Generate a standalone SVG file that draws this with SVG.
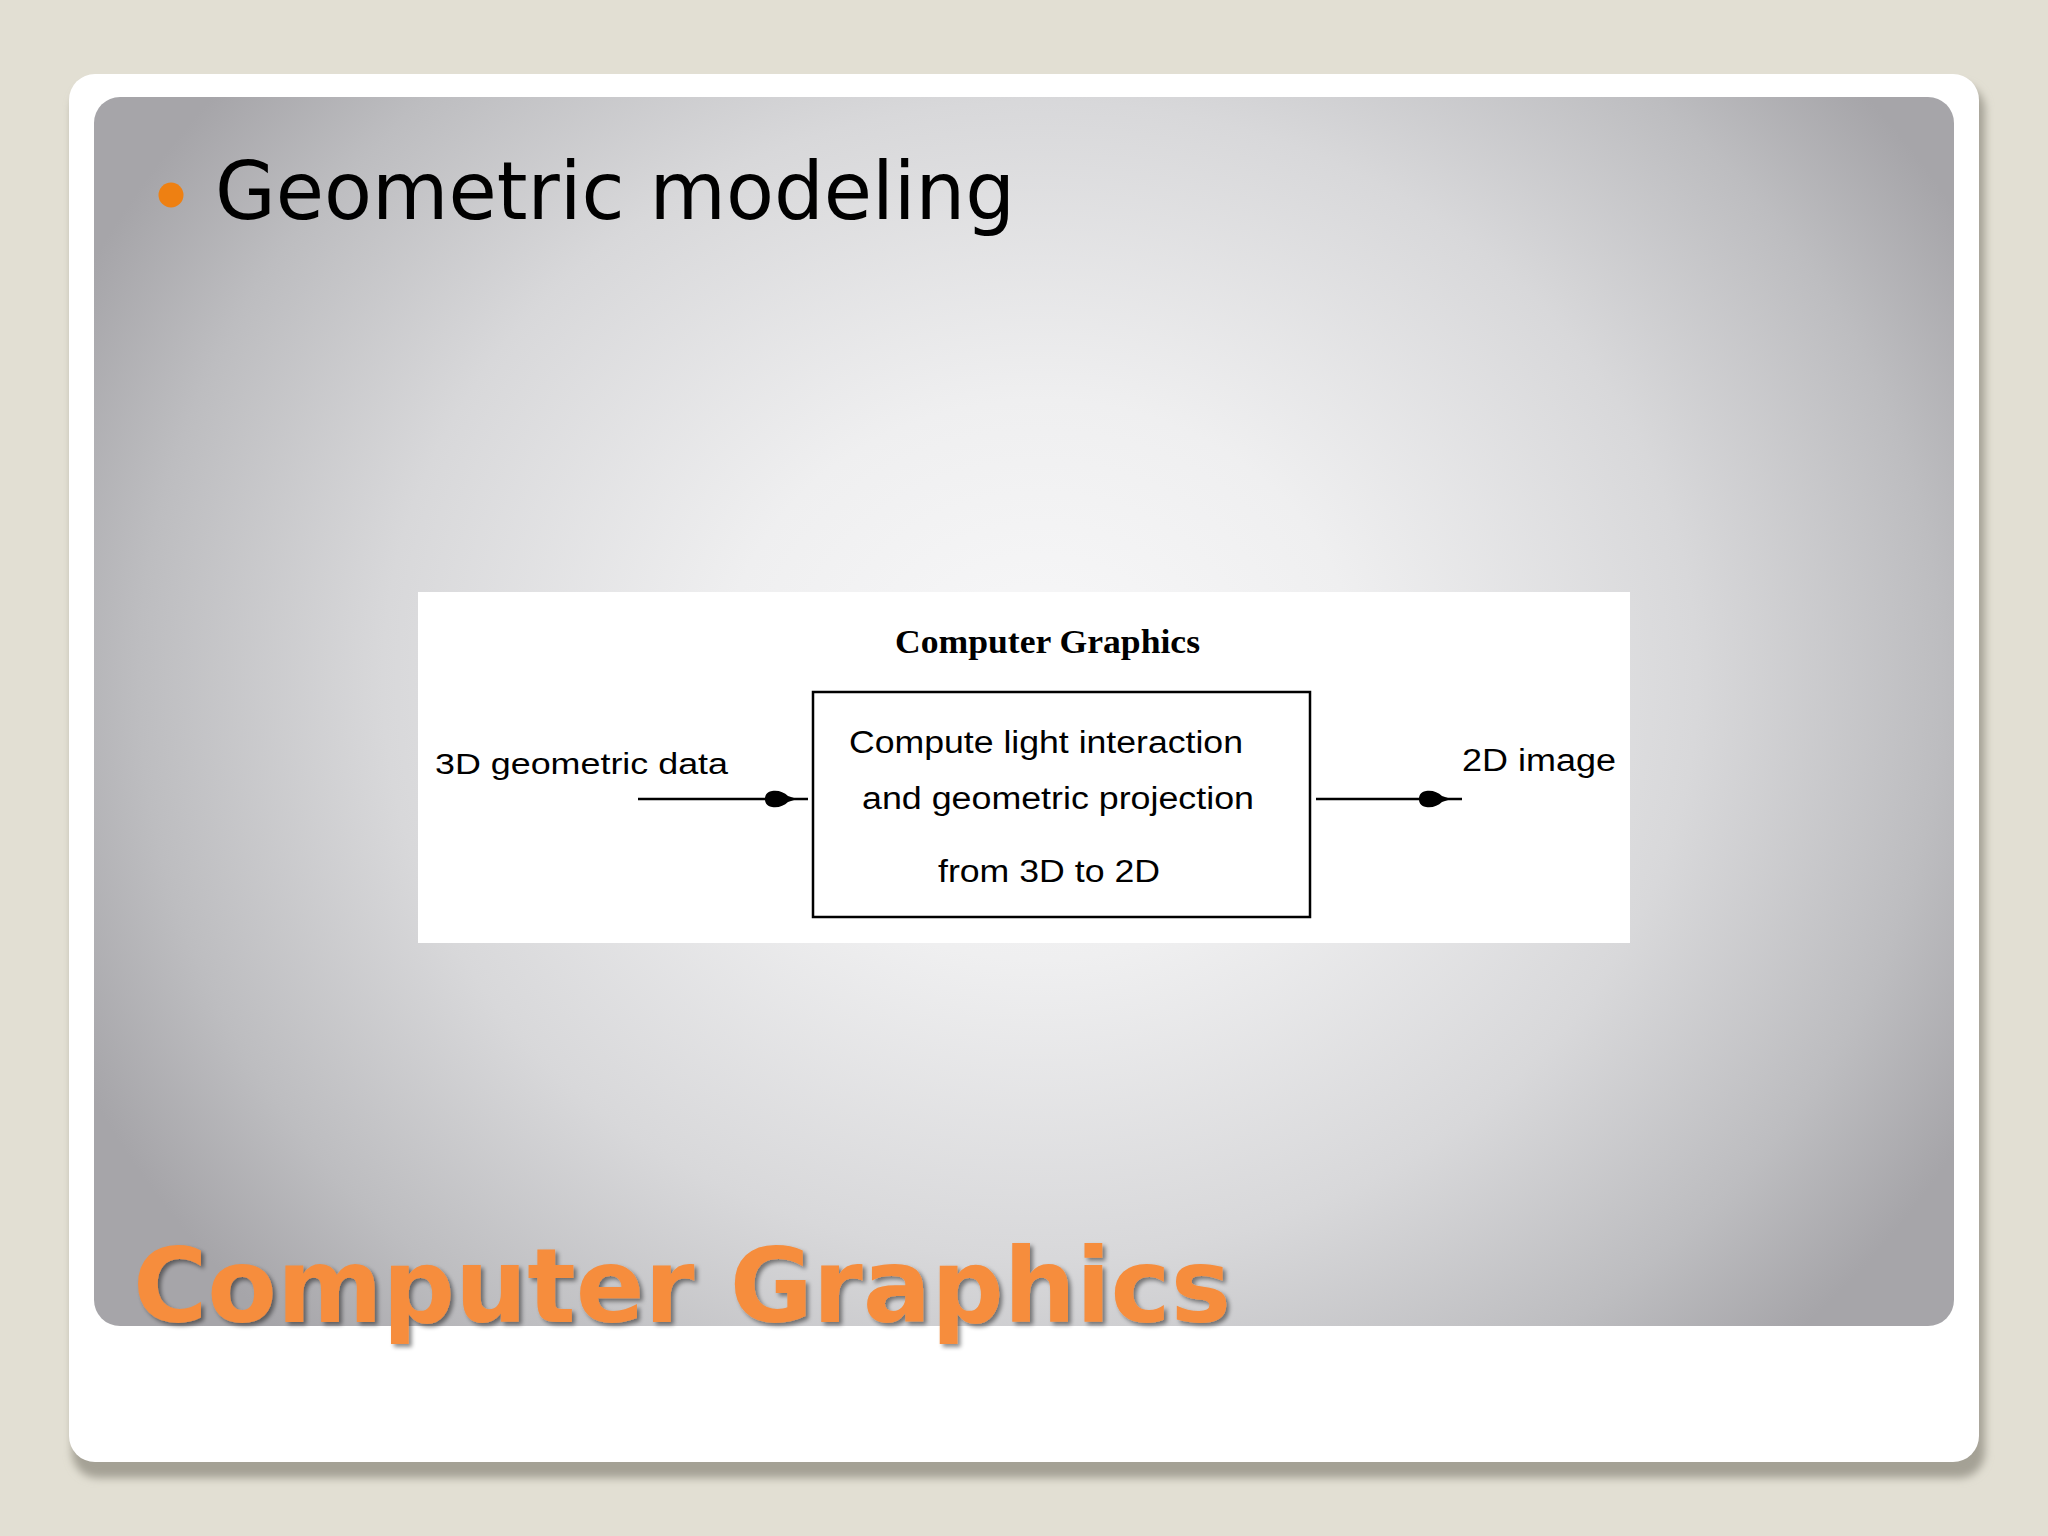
<svg xmlns="http://www.w3.org/2000/svg" width="2048" height="1536" viewBox="0 0 2048 1536">
  <style>
    .sans { font-family: "Liberation Sans", Arial, sans-serif; fill: #000; }
    .label { font-size: 31px; }
    .conn { stroke: #000; stroke-width: 2.5; fill: none; }
  </style>
  <defs>
    <radialGradient id="panelGrad" gradientUnits="userSpaceOnUse" cx="1040" cy="680" r="1060" gradientTransform="translate(1040 680) scale(1 0.88) translate(-1040 -680)">
      <stop offset="0" stop-color="#f8f8f9"/>
      <stop offset="0.3" stop-color="#efeff0"/>
      <stop offset="0.62" stop-color="#d8d8da"/>
      <stop offset="0.85" stop-color="#bdbdc0"/>
      <stop offset="1" stop-color="#a6a5a9"/>
    </radialGradient>
    <filter id="cardShadow" x="-5%" y="-5%" width="110%" height="115%">
      <feGaussianBlur stdDeviation="4"/>
    </filter>
    <filter id="textShadow" x="-5%" y="-20%" width="110%" height="140%">
      <feDropShadow dx="3" dy="3" stdDeviation="2" flood-color="#000" flood-opacity="0.45"/>
    </filter>
    <marker id="blob" markerUnits="userSpaceOnUse" viewBox="0 0 34 18" refX="33" refY="9" markerWidth="34" markerHeight="18" orient="auto">
      <path d="M33 9 L24 6 C20 2 14 0 8 1 C2 2 1 6 1 9 C1 12 2 16 8 17 C14 18 20 16 24 12 Z" fill="#000"/>
    </marker>
  </defs>

  <!-- page background -->
  <rect x="0" y="0" width="2048" height="1536" fill="#e2dfd3"/>

  <!-- card -->
  <g id="card">
    <rect x="72" y="84" width="1913" height="1394" rx="26" fill="#a4a195" filter="url(#cardShadow)"/>
    <rect x="69" y="74" width="1910" height="1388" rx="26" fill="#ffffff"/>
    <rect x="94" y="97" width="1860" height="1229" rx="26" fill="url(#panelGrad)"/>
  </g>

  <!-- bullet heading -->
  <g id="heading">
    <circle cx="171" cy="195" r="12.5" fill="#ee8012"/>
    <text x="215" y="219" font-family="'DejaVu Sans', Verdana, sans-serif" font-size="80" fill="#000" textLength="800" lengthAdjust="spacingAndGlyphs">Geometric modeling</text>
  </g>

  <!-- diagram figure -->
  <g id="figure">
    <rect x="418" y="592" width="1212" height="351" fill="#ffffff"/>
  </g>

  <g id="title">
    <text x="895" y="653" font-family="'Liberation Serif', 'Times New Roman', serif" font-weight="bold" font-size="33" fill="#000" textLength="305" lengthAdjust="spacingAndGlyphs">Computer Graphics</text>
  </g>

  <g id="input">
    <text class="sans" x="435" y="774" font-size="30" textLength="293" lengthAdjust="spacingAndGlyphs">3D geometric data</text>
  </g>

  <g id="process">
    <rect x="813" y="692" width="497" height="225" fill="#ffffff" stroke="#000" stroke-width="2.5"/>
    <text class="sans label" x="849" y="753" textLength="394" lengthAdjust="spacingAndGlyphs">Compute light interaction</text>
    <text class="sans label" x="862" y="809" textLength="392" lengthAdjust="spacingAndGlyphs">and geometric projection</text>
    <text class="sans label" x="938" y="882" textLength="222" lengthAdjust="spacingAndGlyphs">from 3D to 2D</text>
  </g>

  <g id="output">
    <text class="sans" x="1462" y="771" font-size="31" textLength="154" lengthAdjust="spacingAndGlyphs">2D image</text>
  </g>

  <g id="connectors">
    <path class="conn" d="M638 799 L797 799 L808 799" marker-mid="url(#blob)"/>
    <path class="conn" d="M1316 799 L1451 799 L1462 799" marker-mid="url(#blob)"/>
  </g>

  <!-- slide title -->
  <g id="slide-title">
    <text x="133" y="1322" font-family="'DejaVu Sans', Verdana, sans-serif" font-weight="bold" font-size="104" fill="#f68d3d" textLength="1098" lengthAdjust="spacingAndGlyphs" filter="url(#textShadow)">Computer Graphics</text>
  </g>
</svg>
